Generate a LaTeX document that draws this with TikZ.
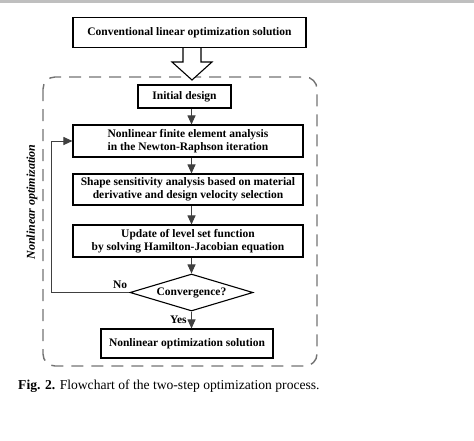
\documentclass[tikz,border=0pt]{standalone}
\usepackage{fontspec}
\setmainfont{Liberation Serif}
\usetikzlibrary{shapes.geometric,arrows.meta}

\begin{document}
\begin{tikzpicture}[x=1pt,y=-1pt,
    box/.style={draw,line width=1.1pt,inner sep=0pt,align=center,
      font=\bfseries\fontsize{11.5}{12.8}\selectfont},
    flow/.style={draw=black!75,line width=1pt,-{Triangle[length=9pt,width=8pt]}}]
  \useasboundingbox (0,0) rectangle (474,440);
  \fill[black!25] (0,0) rectangle (474,3);
  % boxes of the flowchart
  \node[box,minimum width=233pt,minimum height=30pt] (lin) at (189.5,32.5) {Conventional linear optimization solution};
  \node[box,minimum width=93pt,minimum height=23pt] (init) at (184.5,96.5) {Initial design};
  \node[box,minimum width=230pt,minimum height=32pt] (fea) at (188,141) {Nonlinear finite element analysis\\in the Newton-Raphson iteration};
  \node[box,minimum width=230pt,minimum height=31pt] (sens) at (188,189.5) {Shape sensitivity analysis based on material\\derivative and design velocity selection};
  \node[box,minimum width=230pt,minimum height=32pt] (lsf) at (188,241) {Update of level set function\\by solving Hamilton-Jacobian equation};
  \node[box,diamond,aspect=3.3,minimum width=123pt,minimum height=37pt] (conv) at (191.5,292.5) {Convergence?};
  \node[box,minimum width=172pt,minimum height=29pt] (fin) at (187,343.5) {Nonlinear optimization solution};
  % dashed frame of the nonlinear part
  \draw[black!55,line width=1.4pt,dash pattern=on 12pt off 8pt,rounded corners=12pt] (43,77) rectangle (317,366);
  \node[rotate=90,font=\bfseries\itshape\fontsize{12}{14}\selectfont] (nlo) at (32,202) {Nonlinear optimization};
  % hollow arrow into the frame
  \draw[line width=1.1pt,fill=white] (lin.south -| 183,0) -- (183,62) -- (172,62) -- (192,80)
    -- (212,62) -- (201,62) -- (lin.south -| 201,0);
  % connectors
  \draw[flow] (init.south -| conv) -- (fea.north -| conv);
  \draw[flow] (fea.south -| conv) -- (sens.north -| conv);
  \draw[flow] (sens.south -| conv) -- (lsf.north -| conv);
  \draw[flow] (lsf.south -| conv) -- (conv.north);
  \draw[flow] (conv.south) -- node[left,font=\bfseries\fontsize{11.5}{12.8}\selectfont,xshift=-1pt] {Yes} (fin.north -| conv);
  \draw[flow] (conv.west) -- node[above,pos=0.12,font=\bfseries\fontsize{11.5}{12.8}\selectfont,yshift=0pt] {No} (51,292.5) |- (fea.west);
  % caption
  \node[anchor=west,inner sep=0pt,font=\fontsize{13.6}{15}\selectfont] (cap) at (18,386) {\textbf{Fig. 2.} Flowchart of the two-step optimization process.};
\end{tikzpicture}
\end{document}
